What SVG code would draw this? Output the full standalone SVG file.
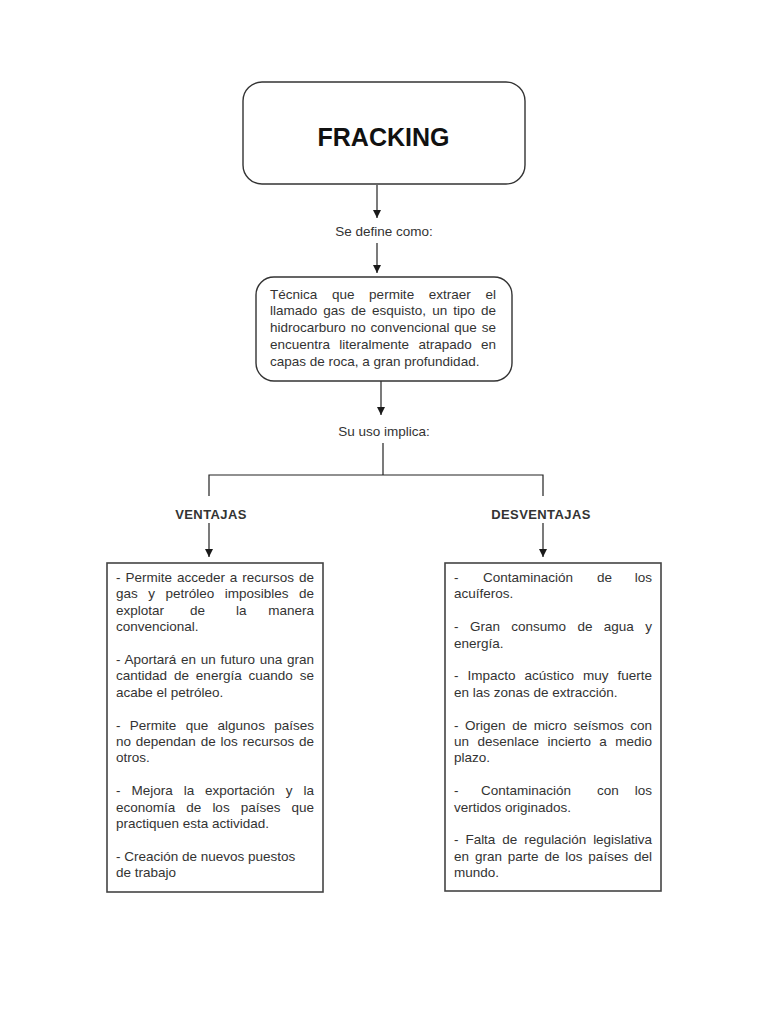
<svg xmlns="http://www.w3.org/2000/svg" width="768" height="1024" viewBox="0 0 768 1024">
<defs>
<marker id="ah" viewBox="0 0 10 10" refX="10" refY="5" markerWidth="8" markerHeight="8" markerUnits="userSpaceOnUse" orient="auto">
<path d="M0,0 L10,5 L0,10 Z" fill="#1a1a1a"/>
</marker>
<style>
.box{fill:#fff;stroke:#333;stroke-width:1.4}
.sq{fill:#fff;stroke:#444;stroke-width:1.6}
.t{font-family:"Liberation Sans",Arial,sans-serif;font-size:13.5px;fill:#333}
.h{font-family:"Liberation Sans",Arial,sans-serif;font-size:13px;font-weight:bold;fill:#333;letter-spacing:0.4px}
.c{stroke:#222;stroke-width:1.2;fill:none}
</style>
</defs>
<rect width="768" height="1024" fill="#fff"/>

<g id="connectors">
<line class="c" x1="377" y1="185" x2="377" y2="218" marker-end="url(#ah)"/>
<line class="c" x1="377" y1="243" x2="377" y2="273" marker-end="url(#ah)"/>
<line class="c" x1="381" y1="381" x2="381" y2="415" marker-end="url(#ah)"/>
<polyline class="c" points="383,443 383,475"/>
<polyline class="c" points="209,496 209,475 543,475 543,496"/>
<line class="c" x1="209" y1="523" x2="209" y2="557" marker-end="url(#ah)"/>
<line class="c" x1="543" y1="523" x2="543" y2="557" marker-end="url(#ah)"/>
<text class="t" x="384" y="236" text-anchor="middle">Se define como:</text>
<text class="t" x="384" y="436" text-anchor="middle">Su uso implica:</text>
</g>

<g id="fracking">
<rect class="box" x="243" y="82" width="282" height="102" rx="19"/>
<text x="383.5" y="146" text-anchor="middle" font-family="Liberation Sans, Arial, sans-serif" font-size="25" font-weight="bold" fill="#111">FRACKING</text>
</g>

<g id="definicion">
<rect class="box" x="256" y="277" width="256" height="104" rx="18"/>
<text class="t" x="270" y="298.5" word-spacing="10.9" textLength="226" lengthAdjust="spacing">Técnica que permite extraer el</text>
<text class="t" x="270" y="315.25" word-spacing="2.27" textLength="226" lengthAdjust="spacing">llamado gas de esquisto, un tipo de</text>
<text class="t" x="270" y="332" word-spacing="1.17" textLength="226" lengthAdjust="spacing">hidrocarburo no convencional que se</text>
<text class="t" x="270" y="348.75" word-spacing="5.55" textLength="226" lengthAdjust="spacing">encuentra literalmente atrapado en</text>
<text class="t" x="270" y="365.5">capas de roca, a gran profundidad.</text>
</g>

<g id="ventajas-label">
<text class="h" x="211" y="519" text-anchor="middle">VENTAJAS</text>
</g>
<g id="desventajas-label">
<text class="h" x="541" y="519" text-anchor="middle">DESVENTAJAS</text>
</g>

<g id="ventajas">
<rect class="sq" x="107" y="563" width="216" height="329"/>
<text class="t" x="116" y="582" word-spacing="1.19" textLength="198" lengthAdjust="spacing">- Permite acceder a recursos de</text>
<text class="t" x="116" y="598.4" word-spacing="6.73" textLength="198" lengthAdjust="spacing">gas y petróleo imposibles de</text>
<text class="t" x="116" y="614.8">explotar</text>
<text class="t" x="190" y="614.8">de</text>
<text class="t" x="236" y="614.8">la</text>
<text class="t" x="314" y="614.8" text-anchor="end">manera</text>
<text class="t" x="116" y="631.2">convencional.</text>
<text class="t" x="116" y="664" word-spacing="0.86" textLength="198" lengthAdjust="spacing">- Aportará en un futuro una gran</text>
<text class="t" x="116" y="680.4" word-spacing="3.15" textLength="198" lengthAdjust="spacing">cantidad de energía cuando se</text>
<text class="t" x="116" y="696.8">acabe el petróleo.</text>
<text class="t" x="116" y="729.6" word-spacing="5.6" textLength="198" lengthAdjust="spacing">- Permite que algunos países</text>
<text class="t" x="116" y="746" word-spacing="1.03" textLength="198" lengthAdjust="spacing">no dependan de los recursos de</text>
<text class="t" x="116" y="762.4">otros.</text>
<text class="t" x="116" y="795.2" word-spacing="7.19" textLength="198" lengthAdjust="spacing">- Mejora la exportación y la</text>
<text class="t" x="116" y="811.6" word-spacing="7.29" textLength="198" lengthAdjust="spacing">economía de los países que</text>
<text class="t" x="116" y="828">practiquen esta actividad.</text>
<text class="t" x="116" y="860.8">- Creación de nuevos puestos</text>
<text class="t" x="116" y="877.2">de trabajo</text>
</g>

<g id="desventajas">
<rect class="sq" x="445" y="563" width="216" height="328"/>
<text class="t" x="454" y="582">-</text>
<text class="t" x="483" y="582">Contaminación</text>
<text class="t" x="597" y="582">de</text>
<text class="t" x="652" y="582" text-anchor="end">los</text>
<text class="t" x="454" y="598.4">acuíferos.</text>
<text class="t" x="454" y="631.2" word-spacing="7.63" textLength="198" lengthAdjust="spacing">- Gran consumo de agua y</text>
<text class="t" x="454" y="647.6">energía.</text>
<text class="t" x="454" y="680.4" word-spacing="5.23" textLength="198" lengthAdjust="spacing">- Impacto acústico muy fuerte</text>
<text class="t" x="454" y="696.8">en las zonas de extracción.</text>
<text class="t" x="454" y="729.6" word-spacing="2.85" textLength="198" lengthAdjust="spacing">- Origen de micro seísmos con</text>
<text class="t" x="454" y="746" word-spacing="4.67" textLength="198" lengthAdjust="spacing">un desenlace incierto a medio</text>
<text class="t" x="454" y="762.4">plazo.</text>
<text class="t" x="454" y="795.2">-</text>
<text class="t" x="481" y="795.2">Contaminación</text>
<text class="t" x="597" y="795.2">con</text>
<text class="t" x="652" y="795.2" text-anchor="end">los</text>
<text class="t" x="454" y="811.6">vertidos originados.</text>
<text class="t" x="454" y="844.4" word-spacing="3.32" textLength="198" lengthAdjust="spacing">- Falta de regulación legislativa</text>
<text class="t" x="454" y="860.8" word-spacing="2.11" textLength="198" lengthAdjust="spacing">en gran parte de los países del</text>
<text class="t" x="454" y="877.2">mundo.</text>
</g>
</svg>
